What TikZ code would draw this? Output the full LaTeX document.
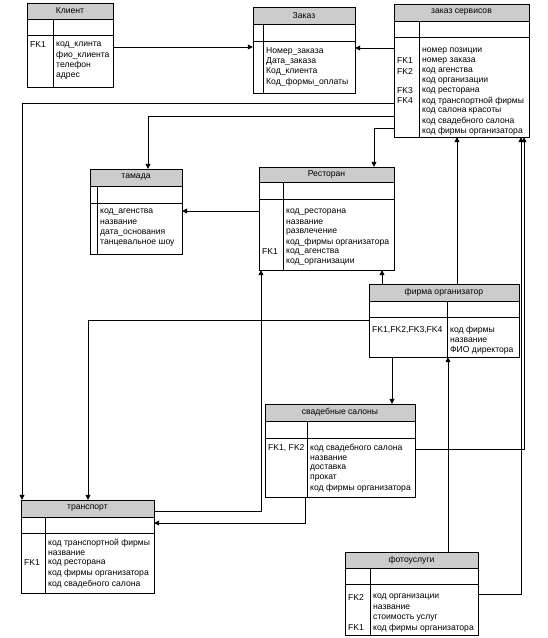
\documentclass[tikz,border=0pt]{standalone}
\usepackage{fontspec}
\setmainfont{Liberation Sans}
\usetikzlibrary{arrows.meta,fit}
\definecolor{hdrgray}{RGB}{204,204,204}
\tikzset{
  tbl/.style={draw=black, line width=0.8pt},
  hdr/.style={fill=hdrgray},
  ttl/.style={inner sep=0, font=\fontsize{8.6}{10}\selectfont},
  attr/.style={anchor=west, inner sep=0, font=\fontsize{8.6}{10}\selectfont},
  conn/.style={draw=black, line width=0.8pt, -{Triangle[length=5pt,width=5pt]}}
}
\newcommand\ertable[9]{%
  \fill[hdr] (#2,#3) rectangle (#4,#6);
  \draw[tbl] (#2,#3) rectangle (#4,#5) (#2,#6) -- (#4,#6) (#2,#7) -- (#4,#7) (#8,#6) -- (#8,#5);
  \node[fit={(#2,#3) (#4,#5)}, inner sep=0] (#1) {};
  \node[ttl] (#1-t) at ({(#2+#4)/2},{(#3+#6)/2}) {#9};
}
\newcommand\attrs[5]{%
  \foreach \s [count=\i from 0] in {#5} \node[attr] (#1-a\i) at (#2,{#3+#4*\i}) {\s};
}
\newcommand\fkey[4]{\node[attr] (#1) at (#2,#3) {#4};}
\begin{document}
\begin{tikzpicture}[x=1pt,y=-1pt]
\useasboundingbox[fill=white] (0,0) rectangle (547,638);

% Клиент
\ertable{klient}{27}{3}{113}{87}{19}{35}{53}{Клиент}
\fkey{klient-k1}{30}{45}{FK1}
\attrs{klient}{56}{45}{10.2}{код\_клинта, фио\_клиента, телефон, адрес}

% Заказ
\ertable{zakaz}{253}{7}{355}{93}{24}{41}{263}{Заказ}
\attrs{zakaz}{266}{51}{10.3}{Номер\_заказа, Дата\_заказа, Код\_клиента, Код\_формы\_оплаты}

% заказ сервисов
\ertable{servis}{394}{4}{529}{137}{21}{37}{419}{заказ сервисов}
\fkey{servis-k1}{397}{61}{FK1}
\fkey{servis-k2}{397}{71}{FK2}
\fkey{servis-k3}{397}{91}{FK3}
\fkey{servis-k4}{397}{101}{FK4}
\attrs{servis}{422}{51}{10}{номер позиции, номер заказа, код агенства, код организации, код ресторана, код транспортной фирмы, код салона красоты, код свадебного салона, код фирмы организатора}

% тамада
\ertable{tamada}{90}{169}{182}{254}{186}{203}{97}{тамада}
\attrs{tamada}{100}{212}{10.3}{код\_агенства, название, дата\_основания, танцевальное шоу}

% Ресторан
\ertable{rest}{259}{167}{394}{270}{182}{199}{283}{Ресторан}
\fkey{rest-k1}{262}{252}{FK1}
\attrs{rest}{286}{212}{10}{код\_ресторана, название, развлечение, код\_фирмы организатора, код\_агенства, код\_организации}

% фирма организатор
\ertable{firma}{369}{284}{519}{357}{301}{317}{447}{фирма организатор}
\fkey{firma-k1}{372}{330}{FK1,FK2,FK3,FK4}
\attrs{firma}{450}{330}{10}{код фирмы, название, ФИО директора}

% свадебные салоны
\ertable{salon}{265}{404}{415}{497}{421}{438}{307}{свадебные салоны}
\fkey{salon-k1}{268}{448}{FK1, FK2}
\attrs{salon}{310}{448}{10}{код свадебного салона, название, доставка, прокат, код фирмы организатора}

% транспорт
\ertable{trans}{21}{500}{154}{593}{517}{533}{45}{транспорт}
\fkey{trans-k1}{24}{563}{FK1}
\attrs{trans}{48}{543}{10.25}{код транспортной фирмы, название, код ресторана, код фирмы организатора, код свадебного салона}

% фотоуслуги
\ertable{foto}{345}{552}{478}{635}{568}{584}{370}{фотоуслуги}
\fkey{foto-k2}{348}{597}{FK2}
\fkey{foto-k1}{348}{628}{FK1}
\attrs{foto}{373}{597}{10.3}{код организации, название, стоимость услуг, код фирмы организатора}

% connectors
\draw[conn] (klient.east |- 0,47) -- (zakaz.west |- 0,47);
\draw[conn] (servis.west |- 0,48) -- (zakaz.east |- 0,48);
\draw[conn] (servis.west |- 0,103) -| (trans.north -| 22,0);
\draw[conn] (servis.west |- 0,116) -| (tamada.north -| 148,0);
\draw[conn] (servis.west |- 0,128) -| (rest.north -| 374,0);
\draw[conn] (rest.west |- 0,211) -- (tamada.east |- 0,211);
\draw[conn] (firma.north -| 382,0) -- (rest.south -| 382,0);
\draw[conn] (trans.east |- 0,511) -| (rest.south -| 261,0);
\draw[conn] (firma.north -| 457,0) -- (servis.south -| 457,0);
\draw[conn] (salon.east |- 0,449) -| (servis.south -| 524,0);
\draw[conn] (foto.east |- 0,594) -| (servis.south -| 521,0);
\draw[conn] (firma.west |- 0,320) -| (trans.north -| 88,0);
\draw[conn] (firma.south -| 392,0) -- (salon.north -| 392,0);
\draw[conn] (foto.north -| 448,0) -- (firma.south -| 448,0);
\draw[conn] (salon.south -| 305,0) |- (trans.east |- 0,523);
\end{tikzpicture}
\end{document}
